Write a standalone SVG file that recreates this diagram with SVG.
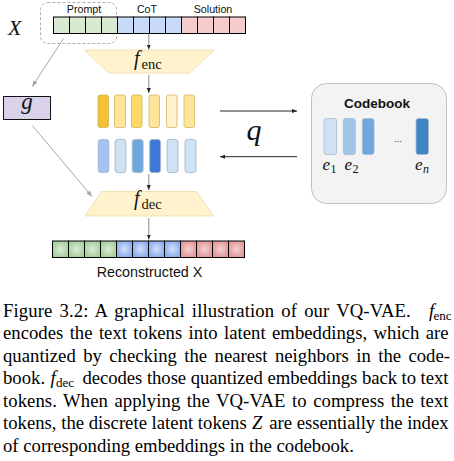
<svg xmlns="http://www.w3.org/2000/svg" width="454" height="461" viewBox="0 0 454 461">
<style>
.lbl{font-family:"Liberation Sans",Arial,sans-serif;font-size:10.7px;fill:#111;text-anchor:middle}
.math{font-family:"Liberation Serif","Times New Roman",serif;font-style:italic;fill:#111}
.rm{font-family:"Liberation Serif","Times New Roman",serif;fill:#111}
.cap{font-family:"Liberation Serif","Times New Roman",serif;font-size:18.7px;fill:#000}
.sub{font-family:"Liberation Serif","Times New Roman",serif;font-size:13px;fill:#000}
.cell{stroke:#000;stroke-width:1}
.g{fill:#d9ead3}.b{fill:#c9daf8}.r{fill:#f4cccc}
.gg{fill:url(#rg)}.bg{fill:url(#rb)}.rr{fill:url(#rr)}
.trap{fill:#fff2cc;stroke:#eadca8;stroke-width:0.8}
.yb{stroke:#d2b45a;stroke-width:0.8}
.bb{stroke:#9fb1c6;stroke-width:0.8}
.cb{stroke:#a9b8c8;stroke-width:0.8}
.conn{stroke:#8a8a8a;stroke-width:1;fill:none}
.connd{stroke:#222;stroke-width:1;fill:none}
.conng{stroke:#a8a8a8;stroke-width:1;fill:none}
</style>
<defs>
<marker id="ah" viewBox="0 0 10 10" refX="10" refY="5" markerWidth="5" markerHeight="5" markerUnits="userSpaceOnUse" orient="auto"><path d="M0,1 L10,5 L0,9 z" fill="#222"/></marker>
<marker id="ahg" viewBox="0 0 10 10" refX="10" refY="5" markerWidth="6" markerHeight="6" markerUnits="userSpaceOnUse" orient="auto"><path d="M0,1 L10,5 L0,9 z" fill="#a8a8a8"/></marker>
<radialGradient id="rg"><stop offset="0" stop-color="#dcedd6"/><stop offset="1" stop-color="#a9cf9f"/></radialGradient>
<radialGradient id="rb"><stop offset="0" stop-color="#d3e2fb"/><stop offset="1" stop-color="#8fb0ee"/></radialGradient>
<radialGradient id="rr"><stop offset="0" stop-color="#f6d2d2"/><stop offset="1" stop-color="#e39a9a"/></radialGradient>
</defs>

<g id="prompt-box">
<rect x="40.5" y="2.5" width="76" height="41" rx="7" fill="none" stroke="#b0b0b0" stroke-width="1" stroke-dasharray="3 2"/>
</g>

<g id="input-tokens">
<text x="8" y="35" class="math" font-size="22">X</text>
<text x="84" y="12.5" class="lbl">Prompt</text>
<text x="147" y="12.5" class="lbl">CoT</text>
<text x="213" y="12.5" class="lbl">Solution</text>
<rect class="cell g" x="53.5" y="17" width="16" height="16.5"/>
<rect class="cell g" x="69.5" y="17" width="16" height="16.5"/>
<rect class="cell g" x="85.5" y="17" width="16" height="16.5"/>
<rect class="cell g" x="101.5" y="17" width="16" height="16.5"/>
<rect class="cell b" x="117.5" y="17" width="16" height="16.5"/>
<rect class="cell b" x="133.5" y="17" width="16" height="16.5"/>
<rect class="cell b" x="149.5" y="17" width="16" height="16.5"/>
<rect class="cell b" x="165.5" y="17" width="16" height="16.5"/>
<rect class="cell r" x="181.5" y="17" width="16" height="16.5"/>
<rect class="cell r" x="197.5" y="17" width="16" height="16.5"/>
<rect class="cell r" x="213.5" y="17" width="16" height="16.5"/>
<rect class="cell r" x="229.5" y="17" width="16" height="16.5"/>
</g>

<g id="f-enc">
<path class="trap" d="M84,50 L214,50 L190,73 L109,73 Z"/>
<text x="134" y="65" class="math" font-size="20">f</text>
<text x="141.5" y="68.5" class="rm" font-size="14.5">enc</text>
</g>

<g id="latent-embeddings">
<rect class="yb" x="98" y="95" width="10.5" height="32.5" rx="2" fill="#f1c232"/>
<rect class="yb" x="114.5" y="95" width="11" height="32.5" rx="2" fill="#ffe599"/>
<rect class="yb" x="131.5" y="95" width="10.5" height="32.5" rx="2" fill="#ffd966"/>
<rect class="yb" x="149" y="95" width="10.5" height="32.5" rx="2" fill="#ffe599"/>
<rect class="yb" x="166.5" y="95" width="10.5" height="32.5" rx="2" fill="#fff2cc"/>
<rect class="yb" x="184" y="95" width="10.5" height="32.5" rx="2" fill="#ffe599"/>
</g>

<g id="quantized-embeddings">
<rect class="bb" x="98.3" y="139.5" width="10.5" height="33" rx="2.5" fill="#a4c2f4"/>
<rect class="bb" x="115" y="139.5" width="10.8" height="33" rx="2.5" fill="#cfe2f3"/>
<rect class="bb" x="132.3" y="139.5" width="10.8" height="33" rx="2.5" fill="#6fa8dc"/>
<rect class="bb" x="149.7" y="139.5" width="10.8" height="33" rx="2.5" fill="#3c78d8"/>
<rect class="bb" x="167" y="139.5" width="11" height="33" rx="2.5" fill="#cfe2f3"/>
<rect class="bb" x="185" y="139.5" width="11" height="33" rx="2.5" fill="#cfe2f3"/>
</g>

<g id="g-box">
<rect x="3.5" y="96.5" width="47" height="23" fill="#d9d2e9" stroke="#111" stroke-width="1"/>
<text x="27" y="108.5" class="math" font-size="23" text-anchor="middle">g</text>
</g>

<g id="q-label">
<text x="246.5" y="140" class="math" font-size="30">q</text>
</g>

<g id="codebook">
<rect x="311.5" y="83.5" width="135" height="120" rx="15" fill="#f3f3f3" stroke="#c0c0c0" stroke-width="1"/>
<text x="377" y="107.7" font-family="Liberation Sans,Arial,sans-serif" font-size="13.5" font-weight="bold" fill="#111" text-anchor="middle">Codebook</text>
<rect class="cb" x="324" y="118.5" width="12.5" height="36" rx="2.5" fill="#cfe2f3"/>
<rect class="cb" x="343.3" y="118.5" width="12" height="36" rx="2.5" fill="#9fc5e8"/>
<rect class="cb" x="362.3" y="118.5" width="11.7" height="36" rx="2.5" fill="#6fa8dc"/>
<rect class="cb" x="416" y="118.5" width="12.5" height="36" rx="2.5" fill="#3d85c6"/>
<text x="398" y="142" font-family="Liberation Sans,Arial,sans-serif" font-size="9" fill="#222" text-anchor="middle">...</text>
<text x="322.5" y="170" class="math" font-size="17">e</text>
<text x="330.5" y="173" class="rm" font-size="12">1</text>
<text x="344.5" y="170" class="math" font-size="17">e</text>
<text x="352.5" y="173" class="rm" font-size="12">2</text>
<text x="415" y="170" class="math" font-size="17">e</text>
<text x="423" y="173" class="math" font-size="12">n</text>
</g>

<g id="f-dec">
<path class="trap" d="M101.5,191.5 L196.5,191.5 L213.5,216 L85,216 Z"/>
<text x="134" y="205" class="math" font-size="20">f</text>
<text x="141.5" y="208.5" class="rm" font-size="14.5">dec</text>
</g>

<g id="reconstructed-tokens">
<rect class="cell gg" x="52.5" y="241" width="16" height="16.5"/>
<rect class="cell gg" x="68.5" y="241" width="16" height="16.5"/>
<rect class="cell gg" x="84.5" y="241" width="16" height="16.5"/>
<rect class="cell gg" x="100.5" y="241" width="16" height="16.5"/>
<rect class="cell bg" x="116.5" y="241" width="16" height="16.5"/>
<rect class="cell bg" x="132.5" y="241" width="16" height="16.5"/>
<rect class="cell bg" x="148.5" y="241" width="16" height="16.5"/>
<rect class="cell bg" x="164.5" y="241" width="16" height="16.5"/>
<rect class="cell rr" x="180.5" y="241" width="16" height="16.5"/>
<rect class="cell rr" x="196.5" y="241" width="16" height="16.5"/>
<rect class="cell rr" x="212.5" y="241" width="16" height="16.5"/>
<rect class="cell rr" x="228.5" y="241" width="16" height="16.5"/>
<text x="149.5" y="276.5" font-family="Liberation Sans,Arial,sans-serif" font-size="14.3" fill="#111" text-anchor="middle">Reconstructed X</text>
</g>

<g id="connectors">
<line class="conn" x1="148.8" y1="34" x2="148.8" y2="49.5" marker-end="url(#ah)"/>
<line class="conn" x1="148.8" y1="75" x2="148.8" y2="93" marker-end="url(#ah)"/>
<line class="conn" x1="148.8" y1="174" x2="148.8" y2="190" marker-end="url(#ah)"/>
<line class="conn" x1="148.8" y1="218" x2="148.8" y2="239.5" marker-end="url(#ah)"/>
<line class="conng" x1="63.5" y1="38.5" x2="32.3" y2="86.5" marker-end="url(#ahg)"/>
<line class="conng" x1="32.3" y1="125.5" x2="92" y2="196.5" marker-end="url(#ahg)"/>
<line class="connd" x1="220" y1="111" x2="297" y2="111" marker-end="url(#ah)"/>
<line class="connd" x1="297" y1="156.7" x2="220" y2="156.7" marker-end="url(#ah)"/>
</g>

<g id="caption">
<text class="cap" x="3" y="316.7" word-spacing="2.3" textLength="407.7" lengthAdjust="spacing">Figure 3.2: A graphical illustration of our VQ-VAE.</text>
<text class="cap" x="429" y="316.7" font-style="italic">f</text>
<text class="sub" x="433.6" y="319.7">enc</text>
<text class="cap" x="3" y="339.2" word-spacing="1.7" textLength="445.5" lengthAdjust="spacing">encodes the text tokens into latent embeddings, which are</text>
<text class="cap" x="3" y="361.7" word-spacing="2.7" textLength="447" lengthAdjust="spacing">quantized by checking the nearest neighbors in the code-</text>
<text class="cap" x="3" y="384.2">book.</text>
<text class="cap" x="50.5" y="384.2" font-style="italic">f</text>
<text class="sub" x="56" y="387.2">dec</text>
<text class="cap" x="82.5" y="384.2" textLength="366" lengthAdjust="spacing">decodes those quantized embeddings back to text</text>
<text class="cap" x="3" y="406.7" word-spacing="1.7" textLength="445.5" lengthAdjust="spacing">tokens.  When applying the VQ-VAE to compress the text</text>
<text class="cap" x="3" y="429.2" textLength="243.7" lengthAdjust="spacing">tokens, the discrete latent tokens</text>
<text class="cap" x="252" y="429.2" font-style="italic">Z</text>
<text class="cap" x="269.3" y="429.2" textLength="179.2" lengthAdjust="spacing">are essentially the index</text>
<text class="cap" x="3" y="451.7">of corresponding embeddings in the codebook.</text>
</g>
</svg>
